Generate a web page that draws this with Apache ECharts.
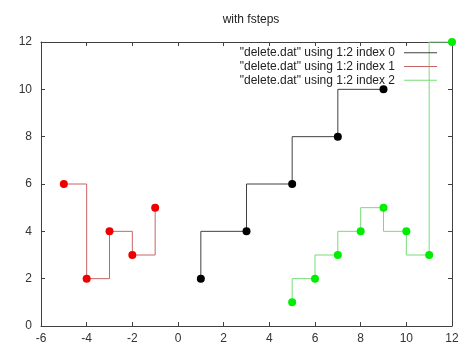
<!DOCTYPE html>
<html><head><meta charset="utf-8">
<script src="https://cdn.jsdelivr.net/npm/echarts@6/dist/echarts.min.js"></script>
<style>html,body{margin:0;padding:0;background:#fff}#c{width:474px;height:355px}</style>
</head><body><div id="c"></div>
<script>
var titleText = 'with fsteps';
var seriesNames = ['"delete.dat" using 1:2 index 0', '"delete.dat" using 1:2 index 1', '"delete.dat" using 1:2 index 2'];
var s0x = [1, 3, 5, 7, 9];
var s0y = [2, 4, 6, 8, 10];
var s1x = [-1, -2, -3, -4, -5];
var s1y = [5, 3, 4, 2, 6];
var s2x = [5, 6, 7, 8, 9, 10, 11, 12];
var s2y = [1, 2, 3, 4, 5, 4, 3, 12];
var lineColors = ['#404040', '#c86464', '#78dc78'];
var markColors = ['#000000', '#ee0000', '#00ee00'];
var xMin = -6, xMax = 12, xStep = 2;
var yMin = 0, yMax = 12, yStep = 2;

function zip(xs, ys) { return xs.map(function (x, i) { return [x, ys[i]]; }); }
var datas = [zip(s0x, s0y), zip(s1x, s1y), zip(s2x, s2y)];
var font = 'Liberation Sans, Arial, sans-serif';
var axisCol = '#404040';

var chart = echarts.init(document.getElementById('c'), null, {renderer: 'canvas'});
function axisBase(extra) {
  return Object.assign({
    type: 'value',
    axisLine: {show: true, onZero: false, lineStyle: {color: axisCol, width: 1}},
    axisTick: {show: true, inside: true, length: 4, lineStyle: {color: axisCol}},
    splitLine: {show: false},
    axisLabel: {color: '#333', fontFamily: font, fontSize: 12}
  }, extra);
}
chart.setOption({
  animation: false,
  backgroundColor: '#fff',
  title: {text: titleText, left: 246, top: 9, textAlign: 'center',
    textStyle: {fontFamily: font, fontSize: 12, fontWeight: 'normal', color: '#222'}},
  grid: {left: 41, right: 22, top: 42, bottom: 29},
  legend: {
    orient: 'vertical', right: 32, top: 41, align: 'right',
    itemWidth: 33, itemHeight: 1, itemGap: 0, icon: 'rect',
    textStyle: {fontFamily: font, fontSize: 12, color: '#222', lineHeight: 13.7, padding: [0, 4, 0, 0]},
    data: seriesNames.map(function (n, i) { return {name: n, itemStyle: {color: lineColors[i]}}; })
  },
  xAxis: [
    axisBase({min: xMin, max: xMax, interval: xStep, position: 'bottom', axisLabel: {color: '#333', fontFamily: font, fontSize: 12, margin: 7}}),
    axisBase({min: xMin, max: xMax, interval: xStep, position: 'top', axisLabel: {show: false}})
  ],
  yAxis: [
    axisBase({min: yMin, max: yMax, interval: yStep, position: 'left', axisLabel: {color: '#333', fontFamily: font, fontSize: 12, margin: 9}}),
    axisBase({min: yMin, max: yMax, interval: yStep, position: 'right', axisLabel: {show: false}})
  ],
  series: datas.map(function (d, i) {
    return {
      name: seriesNames[i], type: 'line', step: 'start', data: d,
      xAxisIndex: 0, yAxisIndex: 0, clip: false,
      symbol: 'circle', symbolSize: 8, showSymbol: true,
      lineStyle: {color: lineColors[i], width: 1},
      itemStyle: {color: markColors[i]},
      z: 3
    };
  })
});
</script></body></html>
